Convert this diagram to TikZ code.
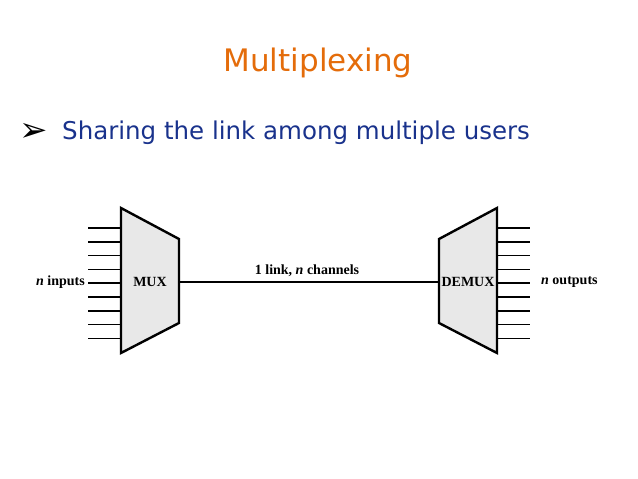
\documentclass[tikz,border=0pt]{standalone}
\usepackage{fontspec}
\setmainfont{Liberation Serif}
\newfontfamily\titlefont{DejaVu Sans}
\newfontfamily\symfont{DejaVu Sans}
\definecolor{torange}{RGB}{228,108,10}
\definecolor{tblue}{RGB}{25,50,140}
\definecolor{boxgray}{RGB}{232,232,232}
\tikzset{
  muxbox/.style={draw=black, line width=2.4pt, fill=boxgray, line join=miter},
  wire/.style={draw=black, line width=1.5pt},
  lbl/.style={font=\bfseries\fontsize{14}{16}\selectfont, inner sep=1pt}
}
\begin{document}
\begin{tikzpicture}[x=1pt,y=-1pt]
\useasboundingbox (0,0) rectangle (638,479);
\node[font=\titlefont\fontsize{31}{36}\selectfont, text=torange] (title) at (318,63) {Multiplexing};
\node[anchor=west, font=\symfont\fontsize{34}{36}\selectfont, inner sep=0pt] (arrowb) at (19,132) {➢};
\node[anchor=west, font=\titlefont\fontsize{24.5}{28}\selectfont, text=tblue, inner sep=0pt] (bullet) at (62,133) {Sharing the link among multiple users};
\foreach \i in {0,...,8} {
  \coordinate (il\i) at (88,{228+13.8*\i});
  \coordinate (ir\i) at (121,{228+13.8*\i});
  \coordinate (ol\i) at (497,{228+13.8*\i});
  \coordinate (or\i) at (530,{228+13.8*\i});
  \draw[wire] (il\i) -- (ir\i);
  \draw[wire] (ol\i) -- (or\i);
}
\coordinate (m1) at (121,208); \coordinate (m2) at (179,239);
\coordinate (m3) at (179,323); \coordinate (m4) at (121,353);
\draw[muxbox] (m1) -- (m2) -- (m3) -- (m4) -- cycle;
\coordinate (d1) at (497,208); \coordinate (d2) at (439,239);
\coordinate (d3) at (439,323); \coordinate (d4) at (497,353);
\draw[muxbox] (d1) -- (d2) -- (d3) -- (d4) -- cycle;
\node[lbl] (mux) at (150,282) {MUX};
\node[lbl] (demux) at (468,282) {DEMUX};
\coordinate (lk1) at (179,282); \coordinate (lk2) at (439,282);
\draw[wire] (lk1) -- (lk2);
\node[lbl] (link) at (307,271) {1 link, \textit{n} channels};
\node[lbl, anchor=east] (inl) at (86,282) {\textit{n} inputs};
\node[lbl, anchor=west] (outl) at (540,282) {\textit{n} outputs};
\end{tikzpicture}
\end{document}
